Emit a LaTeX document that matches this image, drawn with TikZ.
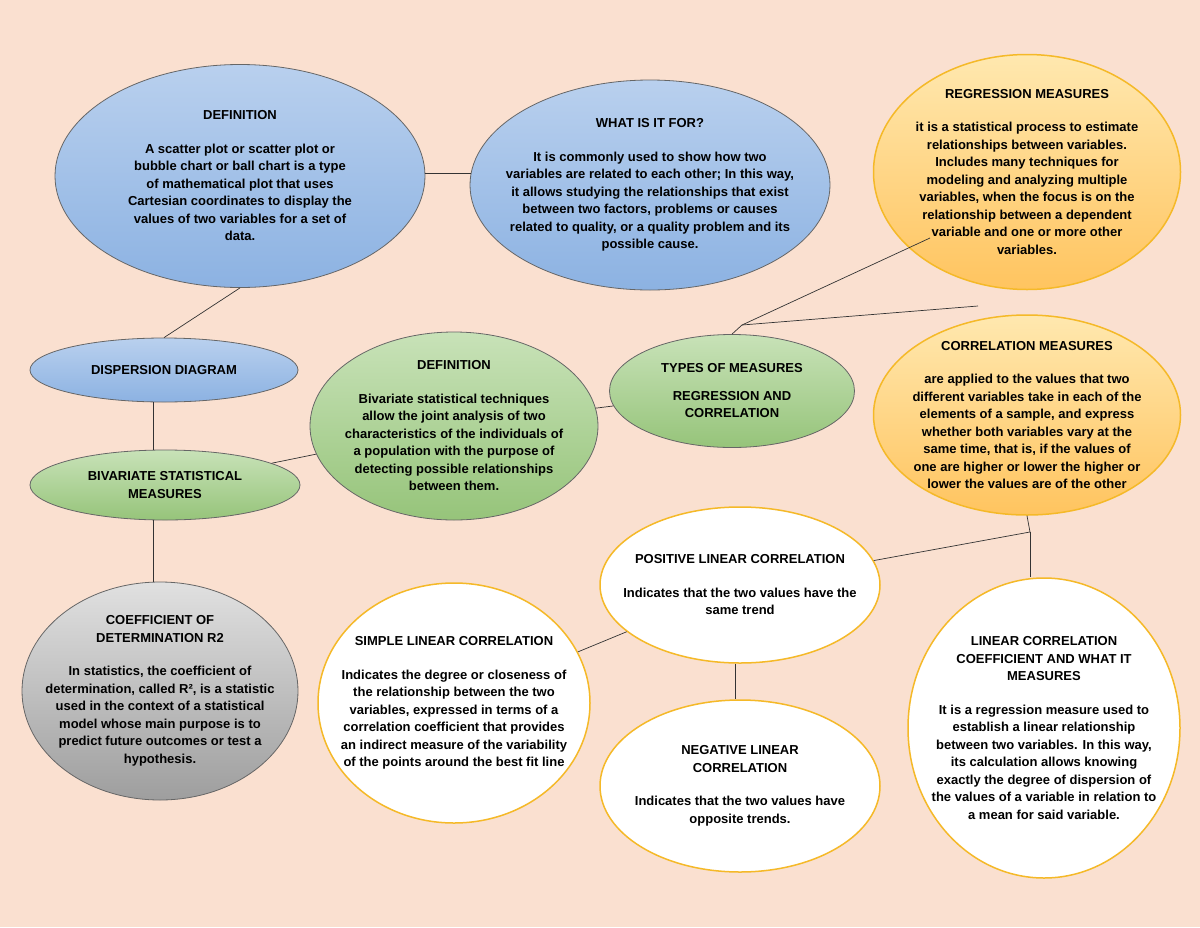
\documentclass[tikz,border=0pt]{standalone}
\usepackage{fontspec}
\setmainfont{Liberation Sans}
\usetikzlibrary{shapes.geometric}
\definecolor{bg}{RGB}{250,224,208}
\begin{document}
\begin{tikzpicture}[x=1pt,y=-1pt,
  e/.style={ellipse,draw,line width=0.8pt,inner sep=0pt},
  t/.style={align=center,inner sep=0pt,font=\bfseries\fontsize{13}{17.5}\selectfont},
  blue/.style={e,draw=black!60,top color={rgb,255:red,185;green,208;blue,238},bottom color={rgb,255:red,140;green,178;blue,226}},
  green/.style={e,draw=black!60,top color={rgb,255:red,200;green,226;blue,184},bottom color={rgb,255:red,150;green,196;blue,122}},
  orange/.style={e,draw={rgb,255:red,245;green,185;blue,40},line width=1.5pt,top color={rgb,255:red,255;green,232;blue,175},bottom color={rgb,255:red,255;green,196;blue,95}},
  gray/.style={e,draw=black!60,top color=black!12,bottom color=black!38},
  white/.style={e,draw={rgb,255:red,245;green,185;blue,40},line width=1.5pt,fill=white},
  ln/.style={draw=black!80,line width=0.7pt}]
\fill[bg] (0,0) rectangle (1200,927);
\useasboundingbox (0,0) rectangle (1200,927);

\node[blue,minimum width=370pt,minimum height=223pt] (def1) at (240,176) {};
\node[t] (def1t) at (def1) {\parbox{225pt}{\centering DEFINITION\\[16pt]A scatter plot or scatter plot or bubble chart or ball chart is a type of mathematical plot that uses Cartesian coordinates to display the values of two variables for a set of data.}};
\node[blue,minimum width=360pt,minimum height=210pt] (what) at (650,185) {};
\node[t] (whatt) at (what) {\parbox{290pt}{\centering WHAT IS IT FOR?\\[16pt]It is commonly used to show how two variables are related to each other; In this way, it allows studying the relationships that exist between two factors, problems or causes related to quality, or a quality problem and its possible cause.}};
\node[orange,minimum width=307pt,minimum height=235pt] (reg) at (1027,172) {};
\node[t] (regt) at (reg) {\parbox{240pt}{\centering REGRESSION MEASURES\\[16pt]it is a statistical process to estimate relationships between variables. Includes many techniques for modeling and analyzing multiple variables, when the focus is on the relationship between a dependent variable and one or more other variables.}};
\node[blue,minimum width=268pt,minimum height=64pt] (disp) at (164,370) {};
\node[t] (dispt) at (disp) {DISPERSION DIAGRAM};
\node[green,minimum width=288pt,minimum height=188pt] (def2) at (454,426) {};
\node[t] (def2t) at (def2) {\parbox{225pt}{\centering DEFINITION\\[16pt]Bivariate statistical techniques allow the joint analysis of two characteristics of the individuals of a population with the purpose of detecting possible relationships between them.}};
\node[green,minimum width=245pt,minimum height=113pt] (types) at (732,391) {};
\node[t] (typest) at (types) {TYPES OF MEASURES\\[10pt]REGRESSION AND\\CORRELATION};
\node[orange,minimum width=307pt,minimum height=200pt] (corr) at (1027,415) {};
\node[t] (corrt) at (corr) {\parbox{232pt}{\centering CORRELATION MEASURES\\[16pt]are applied to the values that two different variables take in each of the elements of a sample, and express whether both variables vary at the same time, that is, if the values of one are higher or lower the higher or lower the values are of the other}};
\node[green,minimum width=270pt,minimum height=70pt] (biv) at (165,485) {};
\node[t] (bivt) at (biv) {BIVARIATE STATISTICAL\\MEASURES};
\node[gray,minimum width=276pt,minimum height=218pt] (coef) at (160,691) {};
\node[t] (coeft) at (coef) {\parbox{230pt}{\centering COEFFICIENT OF\\DETERMINATION R2\\[16pt]In statistics, the coefficient of determination, called R², is a statistic used in the context of a statistical model whose main purpose is to predict future outcomes or test a hypothesis.}};
\node[white,minimum width=280pt,minimum height=156pt] (pos) at (740,585) {};
\node[t] (post) at (pos) {\parbox{250pt}{\centering POSITIVE LINEAR CORRELATION\\[16pt]Indicates that the two values have the same trend}};
\node[white,minimum width=272pt,minimum height=240pt] (simp) at (454,703) {};
\node[t] (simpt) at (simp) {\parbox{235pt}{\centering SIMPLE LINEAR CORRELATION\\[16pt]Indicates the degree or closeness of the relationship between the two variables, expressed in terms of a correlation coefficient that provides an indirect measure of the variability of the points around the best fit line}};
\node[white,minimum width=280pt,minimum height=172pt] (neg) at (740,786) {};
\node[t] (negt) at (neg) {\parbox{250pt}{\centering NEGATIVE LINEAR\\CORRELATION\\[16pt]Indicates that the two values have opposite trends.}};
\node[white,minimum width=272pt,minimum height=300pt] (lin) at (1044,728) {};
\node[t] (lint) at (lin) {\parbox{228pt}{\centering LINEAR CORRELATION\\COEFFICIENT AND WHAT IT\\MEASURES\\[16pt]It is a regression measure used to establish a linear relationship between two variables. In this way, its calculation allows knowing exactly the degree of dispersion of the values of a variable in relation to a mean for said variable.}};

\coordinate (hub) at (742,325);
\coordinate (hub2) at (1030,532);
\coordinate (rc) at (930,238);
\coordinate (cc) at (978,306);
\coordinate (d1e) at (425,173);
\coordinate (whw) at (471,173);
\draw[ln] (def1.south) -- (disp.north);
\draw[ln] (d1e) -- (whw);
\draw[ln] (disp.south -| 153,0) -- (biv.north -| 153,0);
\draw[ln] (biv.south -| 153,0) -- (coef.north -| 153,0);
\draw[ln] (biv) -- (def2);
\draw[ln] (def2) -- (types);
\draw[ln] (types.north) -- (hub) -- (rc);
\draw[ln] (hub) -- (cc);
\draw[ln] (corr.south) -- (hub2) -- (pos);
\draw[ln] (hub2) -- (lin.north -| hub2);
\draw[ln] (pos) -- (simp);
\draw[ln] (pos.south -| 735,0) -- (neg.north -| 735,0);
\end{tikzpicture}
\end{document}
